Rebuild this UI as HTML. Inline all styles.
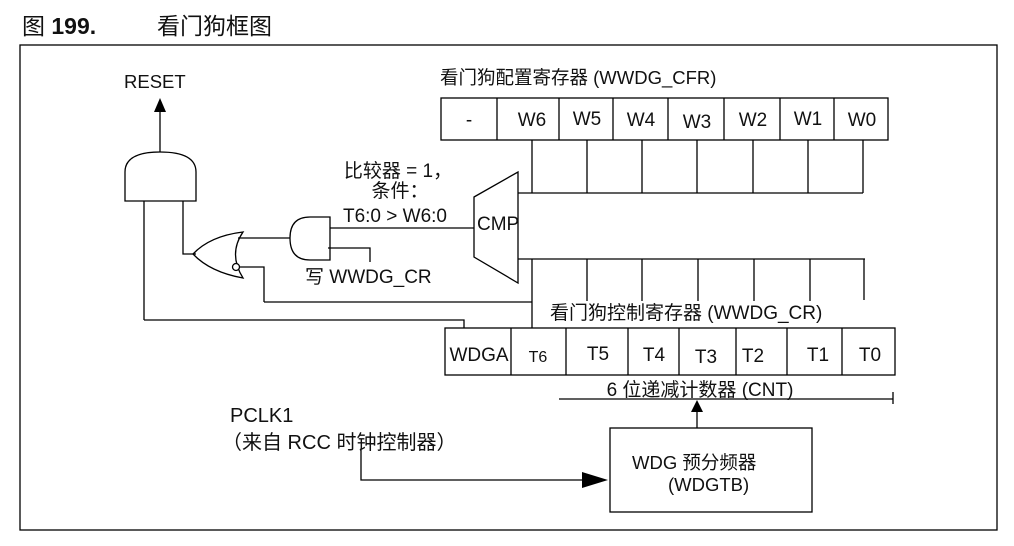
<!DOCTYPE html>
<html><head><meta charset="utf-8"><style>
body{margin:0;background:#fff}
svg text{font-family:"Liberation Sans","Noto Sans CJK SC",sans-serif;fill:#111}
</style></head><body>
<svg width="1014" height="541" viewBox="0 0 1014 541" xmlns="http://www.w3.org/2000/svg">
<g fill="none" stroke="#000" stroke-width="1.3">
<rect x="20" y="45" width="977" height="485"/>
<rect x="441" y="98" width="447" height="42"/>
<path d="M497 98V140M559 98V140M613 98V140M668 98V140M724 98V140M780 98V140M834 98V140"/>
<path d="M532 140V193M587 140V193M642 140V193M697 140V193M753 140V193M808 140V193M863 140V193M518 193H863"/>
<path d="M474 197L518 172V283L474 257Z"/>
<path d="M518 259H865M532 259V328M587 259V301M642 259V301M698 259V301M754 259V301M810 259V301M864 259V300"/>
<rect x="445" y="328" width="450" height="47"/>
<path d="M511 328V375M566 328V375M628 328V375M679 328V375M736 328V375M787 328V375M842 328V375"/>
<path d="M559 399H893M893 392V404M697 428V410"/>
<path d="M264 302H532M264 302V267H240M144 320H464V328"/>
<path d="M125 201V172Q125 152 160 152Q196 152 196 172V201Z"/>
<path d="M160 152V110M144 201V320M183 201V254H196"/>
<path d="M193 254Q210 236 243 232Q228 254 243 278Q210 272 193 254Z"/>
<circle cx="236" cy="267" r="3.5" fill="#fff"/>
<path d="M238 238H290"/>
<path d="M330 217H310Q290 217 290 238Q290 260 310 260H330Z"/>
<path d="M330 228H474M328 248H370V262"/>
<path d="M361 450V480H585"/>
<rect x="610" y="428" width="202" height="84"/>
</g>
<path d="M160 98L154 112H166Z"/>
<path d="M697 400L691 412H703Z"/>
<path d="M608 480L582 472V488Z"/>
<text x="22" y="34" font-size="23">图 <tspan font-weight="bold">199.</tspan></text>
<text x="157" y="34" font-size="23">看门狗框图</text>
<text x="124" y="88" font-size="18.5">RESET</text>
<text x="440" y="84" font-size="18.5">看门狗配置寄存器 (WWDG_CFR)</text>
<g font-size="19" text-anchor="middle">
<text x="469" y="126">-</text><text x="532" y="126">W6</text><text x="587" y="125">W5</text><text x="641" y="126">W4</text><text x="697" y="128">W3</text><text x="753" y="126">W2</text><text x="808" y="125">W1</text><text x="862" y="126">W0</text>
<text x="398" y="177">比较器 = 1，</text><text x="400" y="197">条件：</text><text x="395" y="222">T6:0 &gt; W6:0</text>
<text x="479" y="361">WDGA</text><text x="538" y="362" font-size="16">T6</text><text x="598" y="360">T5</text><text x="654" y="361">T4</text><text x="706" y="363">T3</text><text x="753" y="362">T2</text><text x="818" y="361">T1</text><text x="870" y="361">T0</text>
<text x="700" y="396">6 位递减计数器 (CNT)</text>
</g>
<text x="477" y="230" font-size="19">CMP</text>
<text x="305" y="283" font-size="19">写 WWDG_CR</text>
<text x="550" y="319" font-size="19">看门狗控制寄存器 (WWDG_CR)</text>
<text x="230" y="422" font-size="20">PCLK1</text>
<text x="222" y="449" font-size="20">（来自 RCC 时钟控制器）</text>
<text x="632" y="469" font-size="18.5">WDG 预分频器</text>
<text x="668" y="491" font-size="18.5">(WDGTB)</text>
</svg>
</body></html>
